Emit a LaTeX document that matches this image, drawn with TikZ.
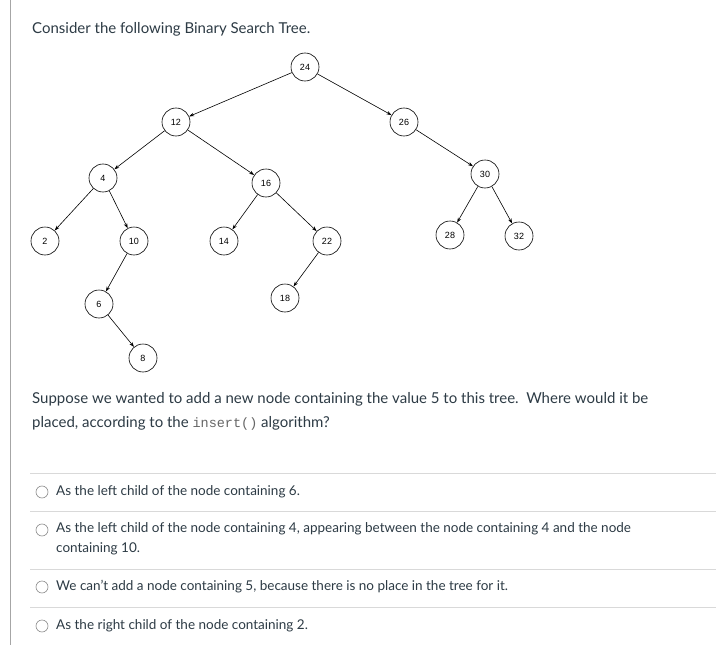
\documentclass[tikz,border=0pt]{standalone}
\usepackage{fontspec}
\setmainfont{Lato}
\newfontfamily\treefont{Liberation Sans}
\setmonofont{Liberation Mono}
\usetikzlibrary{arrows.meta}
\definecolor{txt}{HTML}{2D3B45}
\begin{document}
\begin{tikzpicture}[x=1pt,y=-1pt,
  bst/.style={circle,draw,line width=0.6pt,minimum size=28pt,inner sep=0pt,font=\treefont\fontsize{9}{9}\selectfont},
  edge/.style={-{Stealth[length=5pt,width=3.5pt]},line width=0.6pt},
  sep/.style={draw=black!15,line width=0.6pt},
  radio/.style={circle,draw=black!45,line width=0.6pt,minimum size=12pt,inner sep=0pt,fill=white},
  body/.style={anchor=west,inner sep=0pt,text=txt,font=\fontsize{15}{24}\selectfont},
  opt/.style={anchor=west,inner sep=0pt,text=txt,font=\fontsize{13.5}{20}\selectfont}]
\useasboundingbox (0,0) rectangle (716,645);
\fill[white] (0,0) rectangle (716,645);
\draw[black!35,line width=1pt] (10,0) -- (10,645);
\node[body] (t1) at (32,29) {Consider the following Binary Search Tree.};
\node[bst] (n24) at (305,67) {24};
\node[bst] (n12) at (176,122) {12};
\node[bst] (n26) at (404,122) {26};
\node[bst] (n4) at (103,178) {4};
\node[bst] (n16) at (266,183) {16};
\node[bst] (n30) at (485,174) {30};
\node[bst] (n2) at (45,241) {2};
\node[bst] (n10) at (134,241) {10};
\node[bst] (n14) at (224,241) {14};
\node[bst] (n22) at (327,241) {22};
\node[bst] (n28) at (450,235) {28};
\node[bst] (n32) at (519,236) {32};
\node[bst] (n6) at (99,304) {6};
\node[bst] (n18) at (285,298) {18};
\node[bst] (n8) at (143,358) {8};
\foreach \a/\b in {24/12,24/26,12/4,12/16,26/30,4/2,4/10,16/14,16/22,30/28,30/32,10/6,22/18,6/8}
  \draw[edge] (n\a) -- (n\b);
\node[body] (q1) at (32,399) {Suppose we wanted to add a new node containing the value 5 to this tree.\enspace Where would it be};
\node[body] (q2) at (32,423) {placed, according to the {\color{black!60}\fontsize{13.5}{20}\selectfont\ttfamily insert()} algorithm?};
\draw[sep] (30,473) -- (716,473);
\draw[sep] (30,511) -- (716,511);
\draw[sep] (30,569) -- (716,569);
\draw[sep] (30,607) -- (716,607);
\node[radio] (r1) at (42,492) {};
\node[opt] (o1) at (56,492) {As the left child of the node containing 6.};
\node[radio] (r2) at (42,530) {};
\node[opt] (o2) at (56,529) {As the left child of the node containing 4, appearing between the node containing 4 and the node};
\node[opt] (o2b) at (56,549) {containing 10.};
\node[radio] (r3) at (42,587) {};
\node[opt] (o3) at (56,587) {We can't add a node containing 5, because there is no place in the tree for it.};
\node[radio] (r4) at (42,626) {};
\node[opt] (o4) at (56,626) {As the right child of the node containing 2.};
\end{tikzpicture}
\end{document}
